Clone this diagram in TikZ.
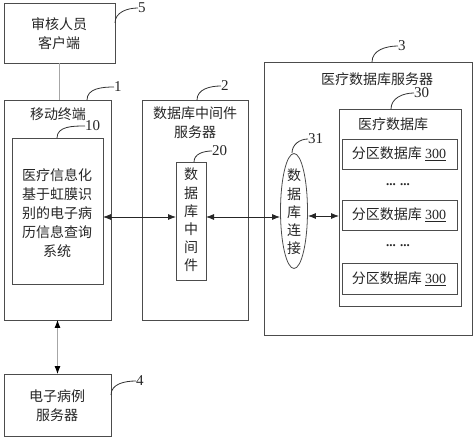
\documentclass[tikz,border=0pt]{standalone}
\usepackage{fontspec}
\setmainfont{Liberation Serif}
\newfontfamily\cjk{Noto Sans CJK SC}
\usetikzlibrary{arrows.meta,shapes.geometric}
\tikzset{
  box/.style={draw=black!70, line width=0.8pt, anchor=north west, inner sep=0pt, outer sep=0pt},
  txt/.style={font=\cjk\fontsize{14}{19}\selectfont, align=center, inner sep=0pt, text=black!85},
  vtxt/.style={font=\cjk\fontsize{14}{18.2}\selectfont, align=center, inner sep=0pt, text=black!85},
  num/.style={font=\fontsize{15}{15}\selectfont, inner sep=0pt, text=black!85},
  lead/.style={draw=black!80, line width=0.8pt},
  arr/.style={{Latex[length=8pt,width=6pt]}-{Latex[length=8pt,width=6pt]}, line width=0.8pt, draw=black!85},
  garr/.style={{Latex[length=8pt,width=6pt,fill=black,color=black]}-{Latex[length=8pt,width=6pt,fill=black,color=black]}, line width=0.8pt, draw=black!35},
}
\begin{document}
\begin{tikzpicture}[x=1pt,y=-1pt]
\useasboundingbox (0,0) rectangle (474,438);
% boxes
\node[box, minimum width=111pt, minimum height=60pt] (b5) at (4,3) {};
\node[box, minimum width=107pt, minimum height=220pt] (b1) at (4,100) {};
\node[box, minimum width=91pt, minimum height=146pt] (b10) at (12,138) {};
\node[box, minimum width=106pt, minimum height=220pt] (b2) at (142,100) {};
\node[box, minimum width=30pt, minimum height=118pt] (b20) at (176,162) {};
\node[box, minimum width=208pt, minimum height=273pt] (b3) at (264,62) {};
\node[box, minimum width=122pt, minimum height=197pt] (b30) at (339,109) {};
\node[box, minimum width=115pt, minimum height=30pt] (p1) at (342,139) {};
\node[box, minimum width=115pt, minimum height=30pt] (p2) at (342,200) {};
\node[box, minimum width=115pt, minimum height=31pt] (p3) at (342,263) {};
\node[draw=black!70, line width=0.8pt, ellipse, minimum width=27pt, minimum height=115pt, inner sep=0pt] (e31) at (294,211) {};
\node[box, minimum width=107pt, minimum height=62pt] (b4) at (4,374) {};
% texts
\node[txt] (t5) at (59,34) {审核人员\\客户端};
\node[txt] (t1) at (58,114) {移动终端};
\node[txt] (t10) at (57,213) {医疗信息化\\基于虹膜识\\别的电子病\\历信息查询\\系统};
\node[txt] (t2) at (195,123) {数据库中间件\\服务器};
\node[vtxt] (t20) at (191,220) {数\\据\\库\\中\\间\\件};
\node[txt] (t3) at (377,79) {医疗数据库服务器};
\node[txt] (t30) at (393,124) {医疗数据库};
\node[vtxt] (t31) at (294,212) {数\\据\\库\\连\\接};
\node[txt] (tp1) at (399,154) {分区数据库 {\rmfamily\underline{300}}};
\node[txt] (tp2) at (399,215) {分区数据库 {\rmfamily\underline{300}}};
\node[txt] (tp3) at (399,278.5) {分区数据库 {\rmfamily\underline{300}}};
\node[num, font=\bfseries\fontsize{13}{13}\selectfont] (d1) at (398,185) {... ...};
\node[num, font=\bfseries\fontsize{13}{13}\selectfont] (d2) at (398,246) {... ...};
\node[txt] (t4) at (57,406) {电子病例\\服务器};
% number labels
\node[num, anchor=west] (l5) at (138,8) {5};
\node[num, anchor=west] (l1) at (114,87) {1};
\node[num, anchor=west] (l2) at (221,86) {2};
\node[num, anchor=west] (l10) at (85,126) {10};
\node[num, anchor=west] (l20) at (212,151) {20};
\node[num, anchor=west] (l3) at (398,46) {3};
\node[num, anchor=west] (l30) at (414,93) {30};
\node[num, anchor=west] (l31) at (308,139) {31};
\node[num, anchor=west] (l4) at (136,381) {4};
\coordinate (c5) at (115,23);
\coordinate (c1) at (87,100);
\coordinate (c2) at (197,100);
\coordinate (c10) at (57,138);
\coordinate (c20) at (194,162);
\coordinate (c3) at (372,62);
\coordinate (c30) at (391,109);
\coordinate (c31) at (292,153);
\coordinate (c4) at (111,395);
\foreach \n in {5,1,2,10,20,3,30,31,4}
  \draw[lead] (c\n) to[out=90,in=180] (l\n.west);
% connectors
\draw[draw=black!35, line width=0.8pt] (b5.south) -- (b1.north -| b5.south);
\draw[garr] (b1.south -| b4.north) -- (b4.north);
\coordinate (ay) at (0,217);
\coordinate (ay2) at (0,216);
\draw[arr] (b10.east |- ay) -- (b20.west |- ay);
\draw[arr] (b20.east |- ay) -- (e31.west |- ay);
\draw[arr] (e31.east |- ay2) -- (b30.west |- ay2);
\end{tikzpicture}
\end{document}
